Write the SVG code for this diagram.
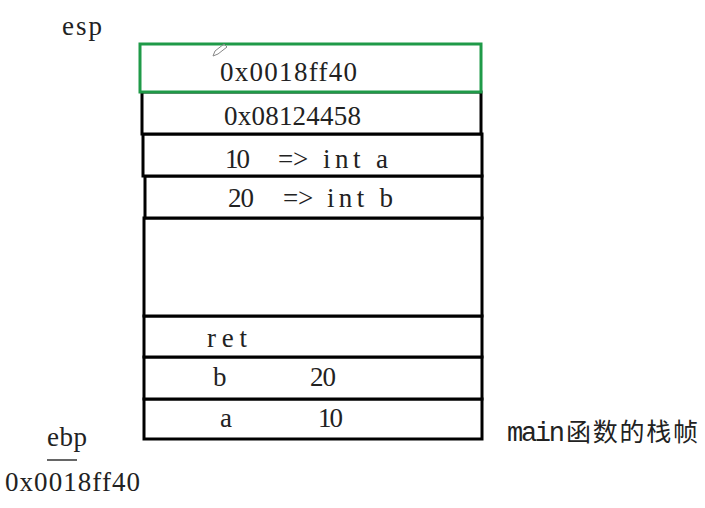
<svg xmlns="http://www.w3.org/2000/svg" width="705" height="508" viewBox="0 0 705 508">
<style>
.cell{fill:#fff;stroke:#000;stroke-width:3}
.top{fill:#fff;stroke:#1f9a48;stroke-width:3}
.t{font-family:"Liberation Serif","Noto Sans CJK SC",serif;font-size:27px;fill:#222;font-variant-ligatures:none;font-feature-settings:"liga" 0,"calt" 0}
.cjk{font-family:"Noto Sans CJK SC",sans-serif;font-size:25px;fill:#222}
</style>
<rect width="705" height="508" fill="#fff"/>
<g id="labels">
<text class="t" x="62" y="35" textLength="40" lengthAdjust="spacing">esp</text>
<text class="t" x="47" y="446" textLength="40" lengthAdjust="spacing">ebp</text>
<line x1="47" y1="460" x2="77" y2="460" stroke="#333" stroke-width="1.5"/>
<text class="t" x="5" y="491" textLength="135" lengthAdjust="spacing">0x0018ff40</text>
<text x="507" y="441"><tspan class="t" style="font-family:'Liberation Mono',monospace" textLength="58" lengthAdjust="spacing">main</tspan><tspan class="cjk" x="566" textLength="132" lengthAdjust="spacing">函数的栈帧</tspan></text>
</g>
<g id="stack">
<g id="row-a"><rect class="cell" x="144" y="399" width="338" height="40"/>
<text class="t" x="220" y="427">a</text><text class="t" x="318" y="427" textLength="25" lengthAdjust="spacing">10</text></g>
<g id="row-b"><rect class="cell" x="144" y="357" width="338" height="42"/>
<text class="t" x="213" y="386">b</text><text class="t" x="310" y="386" textLength="26" lengthAdjust="spacing">20</text></g>
<g id="row-ret"><rect class="cell" x="144" y="316" width="338" height="41"/>
<text class="t" x="207" y="347" textLength="40" lengthAdjust="spacing">ret</text></g>
<g id="row-empty"><rect class="cell" x="144" y="218" width="338" height="98"/></g>
<g id="row-intb"><rect class="cell" x="145" y="176" width="337" height="42"/>
<text class="t" x="228" y="207" textLength="26" lengthAdjust="spacing">20</text>
<text class="t" x="283" y="207">=</text><text class="t" x="298" y="207">&gt;</text>
<text class="t" x="327" y="207" textLength="66" lengthAdjust="spacing">int b</text></g>
<g id="row-inta"><rect class="cell" x="143" y="134" width="339" height="42"/>
<text class="t" x="225" y="168" textLength="25" lengthAdjust="spacing">10</text>
<text class="t" x="278" y="168">=</text><text class="t" x="293" y="168">&gt;</text>
<text class="t" x="323" y="168" textLength="65" lengthAdjust="spacing">int a</text></g>
<g id="row-ret-addr"><rect class="cell" x="142" y="92" width="339" height="42"/>
<text class="t" x="224" y="125" textLength="137" lengthAdjust="spacing">0x08124458</text></g>
<g id="row-esp"><rect class="top" x="140" y="44" width="341" height="48"/>
<text class="t" x="220" y="81" textLength="137" lengthAdjust="spacing">0x0018ff40</text>
<path d="M213 56 L215 51 L224 44 L227 47 L218 54 Z" fill="none" stroke="#888" stroke-width="1"/></g>
</g>
</svg>
